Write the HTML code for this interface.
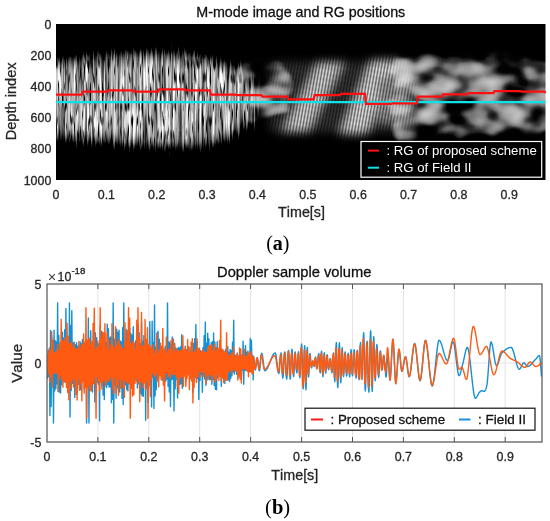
<!DOCTYPE html>
<html><head><meta charset="utf-8"><title>M-mode and Doppler</title>
<style>
html,body{margin:0;padding:0;background:#fff;width:550px;height:521px;overflow:hidden}
svg{display:block}
text{font-family:"Liberation Sans",Arial,Helvetica,sans-serif;font-kerning:none}
.ser{font-family:"Liberation Serif","Times New Roman",serif}
</style></head><body>
<svg width="550" height="521" viewBox="0 0 550 521">
<rect width="550" height="521" fill="#fff"/>
<text x="300.75" y="16.8" font-size="14.3" text-anchor="middle" fill="#111" stroke="#111" stroke-width="0.3">M-mode image and RG positions</text>
<rect x="56" y="24" width="489.5" height="156" fill="#000"/>
<defs>
<filter id="fStreak" filterUnits="userSpaceOnUse" x="56" y="24" width="490" height="156" color-interpolation-filters="sRGB">
  <feGaussianBlur in="SourceAlpha" stdDeviation="9" result="band"/>
  <feTurbulence type="fractalNoise" baseFrequency="0.45 0.02" numOctaves="2" seed="5" result="t"/>
  <feColorMatrix in="t" type="matrix" values="0 0 0 0 0  0 0 0 0 0  0 0 0 0 0  1 0 0 0 0" result="tA"/>
  <feComposite in="tA" in2="band" operator="arithmetic" k1="0" k2="1" k3="0.95" k4="-0.95" result="c"/>
  <feComponentTransfer in="c" result="a0"><feFuncA type="linear" slope="1.45" intercept="-0.05"/></feComponentTransfer>
  <feTurbulence type="fractalNoise" baseFrequency="0.5 0.07" numOctaves="1" seed="21" result="t2"/>
  <feColorMatrix in="t2" type="matrix" values="0 0 0 0 0  0 0 0 0 0  0 0 0 0 0  5 0 0 0 -1.3" result="m2"/>
  <feComposite in="a0" in2="m2" operator="in" result="a"/>
  <feFlood flood-color="#fff"/>
  <feComposite in2="a" operator="in"/>
</filter>
<filter id="fBlob" filterUnits="userSpaceOnUse" x="56" y="24" width="490" height="156" color-interpolation-filters="sRGB">
  <feGaussianBlur in="SourceAlpha" stdDeviation="6" result="band"/>
  <feTurbulence type="fractalNoise" baseFrequency="0.036 0.052" numOctaves="2" seed="9" result="t"/>
  <feColorMatrix in="t" type="matrix" values="0 0 0 0 0  0 0 0 0 0  0 0 0 0 0  1 0 0 0 0" result="tA"/>
  <feComposite in="tA" in2="band" operator="arithmetic" k1="0" k2="1" k3="0.6" k4="-0.6" result="c"/>
  <feComponentTransfer in="c" result="a"><feFuncA type="table" tableValues="0 0 0 0.02 0.2 0.45 0.6 0.7 0.78 0.83 0.86"/></feComponentTransfer>
  <feFlood flood-color="#fff"/>
  <feComposite in2="a" operator="in"/>
</filter>
<pattern id="grat" width="3.1" height="20" patternUnits="userSpaceOnUse" patternTransform="skewX(-10)"><rect width="3.1" height="20" fill="#707070"/><rect x="0.4" width="1.6" height="20" fill="#fff"/></pattern>
<filter id="bl4" filterUnits="userSpaceOnUse" x="200" y="20" width="260" height="160"><feGaussianBlur stdDeviation="4.5"/></filter>
<mask id="mMid" maskUnits="userSpaceOnUse" x="56" y="24" width="490" height="156"><g filter="url(#bl4)">
  <polygon points="270,62 412,62 412,132 270,132" fill="#343434"/>
  <polygon points="283,132 307,132 343,62 319,62" fill="#e0e0e0"/>
  <polygon points="340,134 366,134 398,60 372,60" fill="#e8e8e8"/>
  <polygon points="378,78 412,78 412,122 378,122" fill="#a0a0a0"/>
</g></mask>
</defs>
<polygon points="40,60 60,59 72,57 100,53 130,50 160,50 188,51 205,55 225,61 240,67 252,73 260,79 260,118 252,126 240,135 220,145 200,150 150,149 100,144 60,141 40,141" fill="#fff" filter="url(#fStreak)"/>
<g mask="url(#mMid)"><rect x="250" y="40" width="180" height="110" fill="url(#grat)"/></g>
<g filter="url(#fBlob)">
  <polygon points="388,55 400,54 450,55 500,55 560,55 560,137 500,137 450,137 410,139 388,139" fill="#fff"/>
  <polygon points="236,58 294,58 294,120 236,120" fill="#fff" fill-opacity="0.92"/>
</g>

<line x1="56" y1="102.1" x2="545.5" y2="102.1" stroke="#10e0e8" stroke-width="2.2"/>
<polyline fill="none" stroke="#ff1010" stroke-width="2.2" points="56.0,94.6 81.7,94.6 82.7,91.6 107.5,91.6 108.5,90.4 132.7,90.4 133.7,91.6 158.2,91.6 159.2,89.3 184.9,89.3 185.9,90.3 209.8,90.3 210.8,94.6 235.4,94.6 236.4,95.2 261.5,95.2 262.5,96.7 287.5,96.7 288.5,99.3 313.6,99.3 314.6,95.2 339.9,95.2 340.9,93.8 364.9,93.8 365.9,103.9 391.5,103.9 392.5,103.4 416.9,103.4 417.9,96.6 441.9,96.6 442.9,94.3 467.4,94.3 468.4,93.1 493.5,93.1 494.5,91.1 520.5,91.1 521.5,91.6 544.5,91.6 545.5,93.0"/>
<rect x="361" y="141.5" width="180.7" height="35.7" fill="#000" stroke="#fff" stroke-width="1.2"/>
<line x1="367.8" y1="150.6" x2="379" y2="150.6" stroke="#ff1010" stroke-width="2"/>
<line x1="367.8" y1="167.7" x2="379" y2="167.7" stroke="#10e0e8" stroke-width="2"/>
<text x="386.5" y="155.3" font-size="13.2" fill="#fff">: RG of proposed scheme</text>
<text x="386.5" y="172.4" font-size="13.2" fill="#fff">: RG of Field II</text>
<text x="51.3" y="28.6" font-size="12.4" text-anchor="end" fill="#262626" stroke="#262626" stroke-width="0.3">0</text>
<text x="51.3" y="59.8" font-size="12.4" text-anchor="end" fill="#262626" stroke="#262626" stroke-width="0.3">200</text>
<text x="51.3" y="91.0" font-size="12.4" text-anchor="end" fill="#262626" stroke="#262626" stroke-width="0.3">400</text>
<text x="51.3" y="122.2" font-size="12.4" text-anchor="end" fill="#262626" stroke="#262626" stroke-width="0.3">600</text>
<text x="51.3" y="153.4" font-size="12.4" text-anchor="end" fill="#262626" stroke="#262626" stroke-width="0.3">800</text>
<text x="51.3" y="184.6" font-size="12.4" text-anchor="end" fill="#262626" stroke="#262626" stroke-width="0.3">1000</text>
<text x="56.0" y="198.6" font-size="12.4" text-anchor="middle" fill="#262626" stroke="#262626" stroke-width="0.3">0</text>
<text x="106.4" y="198.6" font-size="12.4" text-anchor="middle" fill="#262626" stroke="#262626" stroke-width="0.3">0.1</text>
<text x="156.7" y="198.6" font-size="12.4" text-anchor="middle" fill="#262626" stroke="#262626" stroke-width="0.3">0.2</text>
<text x="207.1" y="198.6" font-size="12.4" text-anchor="middle" fill="#262626" stroke="#262626" stroke-width="0.3">0.3</text>
<text x="257.4" y="198.6" font-size="12.4" text-anchor="middle" fill="#262626" stroke="#262626" stroke-width="0.3">0.4</text>
<text x="307.8" y="198.6" font-size="12.4" text-anchor="middle" fill="#262626" stroke="#262626" stroke-width="0.3">0.5</text>
<text x="358.2" y="198.6" font-size="12.4" text-anchor="middle" fill="#262626" stroke="#262626" stroke-width="0.3">0.6</text>
<text x="408.5" y="198.6" font-size="12.4" text-anchor="middle" fill="#262626" stroke="#262626" stroke-width="0.3">0.7</text>
<text x="458.9" y="198.6" font-size="12.4" text-anchor="middle" fill="#262626" stroke="#262626" stroke-width="0.3">0.8</text>
<text x="509.2" y="198.6" font-size="12.4" text-anchor="middle" fill="#262626" stroke="#262626" stroke-width="0.3">0.9</text>
<text x="301.5" y="216.7" font-size="14.3" text-anchor="middle" fill="#262626" stroke="#262626" stroke-width="0.3">Time[s]</text>
<text transform="translate(16.4,101.4) rotate(-90)" x="0" y="0" font-size="14.6" text-anchor="middle" fill="#262626" stroke="#262626" stroke-width="0.3">Depth index</text>
<text class="ser" x="277.8" y="250" font-size="20" text-anchor="middle" fill="#000">(<tspan font-weight="bold">a</tspan>)</text>
<text x="294.2" y="276.9" font-size="14.7" text-anchor="middle" fill="#111" stroke="#111" stroke-width="0.3">Doppler sample volume</text>
<line x1="97.9" y1="284" x2="97.9" y2="442" stroke="#e3e3e3" stroke-width="1"/>
<line x1="148.8" y1="284" x2="148.8" y2="442" stroke="#e3e3e3" stroke-width="1"/>
<line x1="199.7" y1="284" x2="199.7" y2="442" stroke="#e3e3e3" stroke-width="1"/>
<line x1="250.6" y1="284" x2="250.6" y2="442" stroke="#e3e3e3" stroke-width="1"/>
<line x1="301.6" y1="284" x2="301.6" y2="442" stroke="#e3e3e3" stroke-width="1"/>
<line x1="352.5" y1="284" x2="352.5" y2="442" stroke="#e3e3e3" stroke-width="1"/>
<line x1="403.4" y1="284" x2="403.4" y2="442" stroke="#e3e3e3" stroke-width="1"/>
<line x1="454.3" y1="284" x2="454.3" y2="442" stroke="#e3e3e3" stroke-width="1"/>
<line x1="505.2" y1="284" x2="505.2" y2="442" stroke="#e3e3e3" stroke-width="1"/>
<line x1="47" y1="363" x2="542" y2="363" stroke="#e3e3e3" stroke-width="1"/>
<clipPath id="cb"><rect x="47" y="284" width="495" height="158"/></clipPath><g clip-path="url(#cb)"><g fill="none" stroke-linejoin="round">
<polyline stroke="#1590d5" stroke-width="1.4" points="47.00,356.5 47.59,378.3 48.18,350.7 48.77,376.2 49.36,348.3 49.95,415.5 50.54,330.5 51.14,406.6 51.73,337.0 52.32,383.6 52.91,340.3 53.50,423.0 54.09,330.2 54.68,391.1 55.27,340.6 55.86,388.5 56.45,342.0 57.04,383.7 57.63,303.0 58.22,391.5 58.82,335.4 59.41,392.1 60.00,345.9 60.59,393.0 61.18,346.2 61.77,384.9 62.36,332.1 62.95,379.4 63.54,337.9 64.13,381.6 64.72,329.6 65.31,382.2 65.91,308.4 66.50,380.1 67.09,344.5 67.68,386.8 68.27,338.8 68.86,384.1 69.45,303.0 70.04,417.1 70.63,325.5 71.22,390.6 71.81,310.8 72.40,383.2 72.99,343.0 73.59,385.7 74.18,342.3 74.77,397.4 75.36,344.6 75.95,386.1 76.54,342.7 77.13,392.4 77.72,346.3 78.31,384.6 78.90,346.3 79.49,379.2 80.08,341.7 80.67,389.8 81.27,343.8 81.86,379.6 82.45,339.4 83.04,377.5 83.63,343.4 84.22,389.2 84.81,346.1 85.40,379.2 85.99,339.2 86.58,423.0 87.17,345.0 87.76,382.9 88.36,317.9 88.95,423.0 89.54,343.5 90.13,381.8 90.72,330.7 91.31,379.3 91.90,347.1 92.49,392.1 93.08,344.6 93.67,381.5 94.26,338.2 94.85,402.0 95.44,332.8 96.04,391.5 96.63,337.8 97.22,382.1 97.81,344.0 98.40,384.0 98.99,343.6 99.58,420.9 100.17,325.9 100.76,381.3 101.35,331.1 101.94,385.2 102.53,345.5 103.12,395.1 103.72,341.4 104.31,399.5 104.90,333.3 105.49,381.8 106.08,342.5 106.67,387.5 107.26,324.2 107.85,384.3 108.44,328.7 109.03,387.0 109.62,338.0 110.21,386.9 110.81,336.8 111.40,402.7 111.99,338.6 112.58,399.4 113.17,303.0 113.76,423.0 114.35,339.3 114.94,385.5 115.53,338.4 116.12,398.2 116.71,329.2 117.30,387.6 117.89,332.3 118.49,390.8 119.08,330.2 119.67,392.1 120.26,340.9 120.85,387.7 121.44,341.9 122.03,398.4 122.62,327.6 123.21,404.6 123.80,303.0 124.39,383.9 124.98,344.9 125.57,384.7 126.17,329.2 126.76,389.6 127.35,333.2 127.94,390.9 128.53,344.1 129.12,383.6 129.71,328.2 130.30,381.7 130.89,333.4 131.48,379.0 132.07,335.2 132.66,378.8 133.26,326.8 133.85,381.6 134.44,346.6 135.03,379.2 135.62,340.9 136.21,380.9 136.80,344.6 137.39,388.0 137.98,324.8 138.57,383.7 139.16,332.7 139.75,392.4 140.34,343.5 140.94,393.7 141.53,322.2 142.12,395.8 142.71,341.1 143.30,396.2 143.89,335.6 144.48,382.6 145.07,343.4 145.66,420.3 146.25,340.3 146.84,387.7 147.43,340.2 148.02,402.6 148.62,346.0 149.21,381.5 149.80,321.8 150.39,387.9 150.98,348.1 151.57,406.9 152.16,321.2 152.75,377.1 153.34,342.8 153.93,408.4 154.52,304.9 155.11,395.9 155.71,347.3 156.30,389.5 156.89,333.0 157.48,378.4 158.07,331.3 158.66,378.2 159.25,339.3 159.84,373.0 160.43,352.9 161.02,373.1 161.61,353.7 162.20,380.4 162.79,352.6 163.39,373.3 163.98,350.6 164.57,375.9 165.16,346.3 165.75,381.3 166.34,348.0 166.93,379.1 167.52,303.0 168.11,386.4 168.70,341.9 169.29,392.1 169.88,342.2 170.47,406.6 171.07,344.7 171.66,379.8 172.25,336.9 172.84,379.1 173.43,347.0 174.02,410.9 174.61,343.4 175.20,388.9 175.79,347.9 176.38,379.1 176.97,349.1 177.56,398.0 178.16,347.4 178.75,384.1 179.34,347.9 179.93,384.5 180.52,347.0 181.11,383.6 181.70,334.6 182.29,388.2 182.88,350.3 183.47,374.1 184.06,352.4 184.65,373.5 185.24,346.1 185.84,382.0 186.43,349.8 187.02,373.7 187.61,351.4 188.20,374.9 188.79,352.7 189.38,376.1 189.97,347.7 190.56,378.1 191.15,351.4 191.74,377.6 192.33,350.1 192.92,392.4 193.52,343.5 194.11,376.4 194.70,338.6 195.29,377.4 195.88,324.5 196.47,381.3 197.06,341.6 197.65,378.2 198.24,348.5 198.83,399.6 199.42,349.3 200.01,380.6 200.61,350.7 201.20,374.5 201.79,351.4 202.38,392.2 202.97,347.7 203.56,374.4 204.15,335.7 204.74,379.1 205.33,321.9 205.92,385.2 206.51,343.2 207.10,380.0 207.69,333.2 208.29,377.4 208.88,338.8 209.47,379.7 210.06,347.2 210.65,379.6 211.24,342.6 211.83,384.3 212.42,341.8 213.01,379.2 213.60,332.9 214.19,385.4 214.78,341.9 215.37,389.2 215.97,347.7 216.56,389.8 217.15,341.6 217.74,377.8 218.33,351.2 218.92,374.9 219.51,349.9 220.10,375.5 220.69,351.6 221.28,386.4 221.87,348.7 222.46,377.7 223.06,350.9 223.65,377.4 224.24,352.2 224.83,383.5 225.42,349.8 226.01,373.1 226.60,348.0 227.19,380.0 227.78,346.6 228.37,379.7 228.96,352.1 229.55,381.4 230.14,349.5 230.74,378.6 231.33,350.7 231.92,375.8 232.51,342.3 233.10,371.5 233.69,320.2 234.28,374.0 234.87,354.9 235.46,370.9 236.05,355.5 236.64,374.3 237.23,352.9 237.82,371.1 238.42,355.9 239.01,377.5 239.60,354.3 240.19,371.5 240.78,354.8 241.37,377.7 241.96,355.2 242.55,370.1 243.14,341.1 243.73,384.3 244.32,352.6 244.91,370.3 245.51,345.8 246.10,370.3 246.69,352.5 247.28,370.7 247.87,351.2 248.46,370.5 249.05,354.7 249.64,371.4 250.23,338.5 250.82,369.5 251.41,340.1 252.00,368.8 252.59,355.4 253.19,379.8 253.54,356.4 253.76,356.9 253.98,358.3 254.20,360.6 254.42,363.2 254.64,365.8 254.86,368.0 255.08,369.4 255.30,370.0 255.53,369.6 255.75,368.5 255.97,366.9 256.19,364.9 256.41,362.8 256.64,360.8 256.86,359.1 257.08,358.1 257.30,357.7 257.51,358.0 257.71,359.0 257.92,360.4 258.13,362.2 258.33,364.3 258.54,366.3 258.75,368.1 258.95,369.6 259.16,370.5 259.37,370.8 259.58,370.5 259.79,369.4 260.00,367.8 260.21,365.7 260.42,363.3 260.64,360.8 260.85,358.4 261.06,356.3 261.27,354.7 261.48,353.7 261.69,353.3 261.90,353.5 262.11,354.0 262.32,355.0 262.54,356.2 262.75,357.6 262.96,359.3 263.17,361.1 263.38,362.9 263.59,364.7 263.80,366.3 264.01,367.8 264.22,369.0 264.43,369.9 264.64,370.5 264.85,370.7 265.05,370.7 265.26,370.6 265.46,370.5 265.67,370.4 265.87,370.3 266.07,370.1 266.28,369.9 266.48,369.6 266.69,369.4 266.89,369.1 267.09,368.7 267.30,368.4 267.50,368.0 267.70,367.6 267.91,367.2 268.11,366.7 268.32,366.3 268.52,365.8 268.72,365.3 268.93,364.8 269.13,364.3 269.34,363.7 269.54,363.2 269.74,362.7 269.95,362.1 270.15,361.6 270.36,361.0 270.56,360.5 270.76,360.0 270.97,359.4 271.17,358.9 271.38,358.4 271.58,357.9 271.78,357.4 271.99,357.0 272.19,356.5 272.40,356.1 272.60,355.7 272.80,355.3 273.01,355.0 273.21,354.6 273.41,354.3 273.62,354.1 273.82,353.8 274.03,353.6 274.23,353.4 274.43,353.3 274.64,353.2 274.84,353.1 275.05,353.0 275.25,353.0 275.45,353.2 275.65,353.6 275.85,354.4 276.05,355.4 276.25,356.7 276.45,358.1 276.65,359.8 276.85,361.5 277.05,363.3 277.25,365.0 277.45,366.8 277.65,368.4 277.85,369.8 278.05,371.1 278.25,372.1 278.45,372.9 278.65,373.3 278.85,373.5 279.07,373.0 279.29,371.5 279.50,369.2 279.72,366.4 279.94,363.2 280.16,360.0 280.37,357.1 280.59,354.9 280.81,353.4 281.03,352.9 281.25,353.9 281.47,356.6 281.69,360.6 281.91,365.4 282.13,370.2 282.35,374.3 282.58,377.0 282.80,378.0 283.00,377.3 283.20,375.5 283.40,372.6 283.61,369.0 283.81,364.9 284.01,360.9 284.21,357.3 284.41,354.4 284.62,352.6 284.82,351.9 285.02,352.7 285.22,355.1 285.43,358.7 285.63,363.1 285.84,367.8 286.04,372.3 286.24,375.9 286.45,378.2 286.65,379.0 286.87,378.2 287.08,375.7 287.30,371.9 287.52,367.2 287.73,362.2 287.95,357.5 288.17,353.7 288.38,351.2 288.60,350.4 288.80,351.5 289.01,354.6 289.21,359.2 289.41,364.8 289.62,370.3 289.82,374.9 290.03,378.0 290.23,379.1 290.44,378.0 290.65,374.8 290.87,369.9 291.08,364.2 291.29,358.5 291.50,353.6 291.72,350.4 291.93,349.3 292.14,350.3 292.35,353.3 292.56,357.7 292.77,362.9 292.99,368.1 293.20,372.5 293.41,375.5 293.62,376.5 293.84,375.3 294.07,371.9 294.29,367.0 294.52,361.6 294.74,356.6 294.97,353.3 295.19,352.0 295.40,352.8 295.60,355.1 295.80,358.4 296.00,362.4 296.21,366.4 296.41,369.7 296.61,372.0 296.82,372.8 297.02,372.1 297.22,370.3 297.42,367.5 297.62,364.1 297.82,360.4 298.02,356.9 298.23,354.1 298.43,352.3 298.63,351.7 298.87,354.1 299.11,360.7 299.35,368.7 299.59,375.2 299.83,377.7 300.05,376.4 300.26,372.8 300.48,367.3 300.70,360.9 300.92,354.4 301.14,349.0 301.36,345.3 301.58,344.0 301.79,345.7 302.01,350.6 302.23,357.8 302.45,366.3 302.66,374.9 302.88,382.1 303.10,387.0 303.31,388.7 303.54,385.8 303.77,377.9 303.99,367.1 304.22,356.3 304.45,348.4 304.67,345.6 304.89,348.5 305.10,356.6 305.32,367.6 305.53,378.7 305.75,386.8 305.96,389.7 306.19,386.9 306.41,379.1 306.63,368.6 306.86,358.0 307.08,350.3 307.30,347.4 307.51,349.4 307.72,354.8 307.93,362.2 308.14,369.6 308.35,375.0 308.56,377.0 308.76,375.8 308.97,372.6 309.17,367.8 309.38,362.6 309.58,357.9 309.78,354.6 309.99,353.5 310.21,354.2 310.43,356.2 310.66,359.1 310.88,362.3 311.10,365.2 311.33,367.2 311.55,367.9 311.78,367.5 312.01,366.2 312.24,364.5 312.47,362.8 312.70,361.5 312.93,361.1 313.13,361.3 313.34,362.1 313.54,363.1 313.74,364.3 313.94,365.4 314.14,366.1 314.35,366.4 314.55,365.7 314.76,364.0 314.97,361.7 315.17,359.3 315.38,357.6 315.59,357.0 315.79,357.6 315.99,359.2 316.20,361.5 316.40,364.1 316.60,366.5 316.81,368.1 317.01,368.7 317.23,368.1 317.46,366.5 317.68,364.0 317.90,361.1 318.13,358.2 318.35,355.7 318.57,354.1 318.80,353.5 319.00,354.4 319.20,357.1 319.40,360.9 319.61,365.2 319.81,369.1 320.01,371.8 320.21,372.7 320.43,371.3 320.66,367.3 320.88,362.0 321.10,356.6 321.32,352.6 321.55,351.2 321.78,352.9 322.01,357.6 322.24,363.9 322.48,370.3 322.71,375.0 322.94,376.7 323.14,375.5 323.34,372.1 323.55,367.3 323.75,361.9 323.95,357.1 324.15,353.8 324.35,352.6 324.58,354.0 324.81,357.7 325.05,362.9 325.28,368.0 325.51,371.8 325.75,373.1 325.96,372.2 326.17,369.7 326.39,366.0 326.60,361.9 326.81,358.3 327.03,355.7 327.24,354.8 327.47,355.8 327.71,358.5 327.94,362.2 328.17,365.9 328.40,368.6 328.63,369.6 328.85,369.1 329.08,367.9 329.30,366.1 329.52,364.0 329.74,361.9 329.96,360.1 330.18,358.9 330.40,358.5 330.63,359.2 330.85,361.1 331.07,364.0 331.30,367.2 331.52,370.0 331.75,372.0 331.97,372.7 332.20,371.7 332.42,369.0 332.65,365.0 332.87,360.6 333.10,356.6 333.33,353.9 333.55,352.9 333.79,355.6 334.03,362.9 334.27,371.8 334.51,379.0 334.75,381.7 334.97,379.8 335.20,374.4 335.42,366.5 335.65,357.8 335.87,349.9 336.10,344.5 336.32,342.5 336.53,344.8 336.74,351.0 336.94,360.1 337.15,370.1 337.36,379.1 337.56,385.4 337.77,387.6 337.97,385.9 338.17,381.0 338.37,373.8 338.57,365.2 338.77,356.6 338.97,349.4 339.17,344.5 339.38,342.8 339.61,345.5 339.84,352.8 340.07,362.8 340.31,372.8 340.54,380.1 340.77,382.7 340.98,381.0 341.19,376.2 341.40,369.1 341.61,361.4 341.82,354.4 342.03,349.5 342.24,347.8 342.45,349.7 342.67,355.0 342.89,362.1 343.10,369.3 343.32,374.6 343.53,376.5 343.76,375.3 343.99,371.9 344.21,367.0 344.44,361.5 344.66,356.6 344.89,353.2 345.11,352.0 345.34,353.2 345.56,356.6 345.79,361.4 346.01,366.7 346.24,371.6 346.46,374.9 346.69,376.1 346.90,375.0 347.12,371.8 347.34,367.2 347.56,362.1 347.77,357.5 347.99,354.3 348.21,353.2 348.42,354.4 348.63,357.7 348.84,362.4 349.05,367.7 349.27,372.4 349.48,375.7 349.69,376.9 349.91,375.1 350.14,370.1 350.36,363.2 350.58,356.4 350.81,351.4 351.03,349.5 351.25,350.8 351.47,354.5 351.68,359.8 351.90,365.6 352.12,370.9 352.34,374.6 352.55,375.9 352.78,374.6 353.01,371.0 353.23,365.7 353.46,359.9 353.69,354.7 353.92,351.1 354.14,349.8 354.36,350.6 354.57,353.1 354.79,356.9 355.00,361.5 355.21,366.4 355.43,371.0 355.64,374.8 355.86,377.3 356.07,378.1 356.31,376.2 356.54,371.1 356.77,364.1 357.00,357.1 357.23,352.0 357.47,350.1 357.67,351.2 357.87,354.4 358.08,359.2 358.28,364.9 358.49,370.5 358.69,375.3 358.89,378.5 359.10,379.6 359.30,377.8 359.50,372.6 359.70,365.2 359.90,356.9 360.10,349.5 360.30,344.3 360.50,342.5 360.70,344.3 360.90,349.4 361.10,356.8 361.30,365.0 361.50,372.4 361.70,377.5 361.90,379.4 362.12,377.6 362.34,372.5 362.56,365.0 362.78,356.1 363.00,347.1 363.22,339.6 363.44,334.5 363.66,332.7 363.87,335.0 364.07,341.3 364.27,350.7 364.47,361.9 364.68,373.0 364.88,382.5 365.08,388.8 365.28,391.0 365.49,389.5 365.69,385.2 365.90,378.6 366.10,370.5 366.31,361.9 366.51,353.7 366.72,347.1 366.92,342.8 367.13,341.3 367.34,343.3 367.55,348.8 367.76,357.0 367.97,366.7 368.18,376.4 368.39,384.7 368.60,390.2 368.82,392.1 369.02,390.3 369.22,384.9 369.42,376.8 369.62,366.7 369.82,356.1 370.02,346.1 370.23,337.9 370.43,332.6 370.63,330.7 370.83,333.0 371.03,339.6 371.23,349.5 371.43,361.1 371.63,372.7 371.84,382.5 372.04,389.1 372.24,391.4 372.45,388.7 372.66,381.1 372.87,370.2 373.08,358.0 373.29,347.0 373.50,339.5 373.71,336.8 373.93,338.9 374.15,345.0 374.37,353.8 374.59,363.6 374.82,372.4 375.04,378.5 375.26,380.7 375.46,379.3 375.66,375.4 375.86,369.5 376.06,362.6 376.26,355.7 376.46,349.8 376.66,345.9 376.86,344.5 377.09,345.8 377.31,349.3 377.54,354.7 377.76,360.9 377.98,367.2 378.21,372.5 378.43,376.1 378.66,377.3 378.86,376.5 379.06,374.2 379.26,370.7 379.46,366.4 379.66,361.8 379.86,357.5 380.06,354.0 380.26,351.7 380.46,350.9 380.66,351.6 380.87,353.7 381.08,356.7 381.29,360.4 381.50,364.0 381.70,367.1 381.91,369.1 382.12,369.9 382.32,369.4 382.53,368.2 382.73,366.3 382.94,364.0 383.14,361.6 383.35,359.2 383.55,357.4 383.76,356.1 383.96,355.7 384.18,356.7 384.41,359.6 384.63,363.4 384.85,367.3 385.07,370.1 385.30,371.2 385.00,363.0 385.25,368.3 385.50,372.8 385.75,375.9 386.00,377.0 386.25,376.1 386.50,373.6 386.75,370.0 387.00,366.0 387.25,362.0 387.50,358.4 387.75,355.9 388.00,355.0 388.25,356.1 388.50,358.9 388.75,362.9 389.00,367.5 389.25,372.1 389.50,376.1 389.75,378.9 390.00,380.0 390.25,379.2 390.50,376.8 390.75,373.4 391.00,369.0 391.25,364.1 391.50,359.0 391.75,353.9 392.00,349.2 392.25,345.1 392.50,342.1 392.75,340.3 393.00,340.1 393.25,341.7 393.50,344.6 393.75,348.7 394.00,353.5 394.25,358.8 394.50,364.2 394.75,369.5 395.00,374.2 395.25,378.0 395.50,380.7 395.75,382.0 396.00,381.6 396.25,380.3 396.50,378.1 396.75,375.2 397.00,371.9 397.25,368.2 397.50,364.5 397.75,360.8 398.00,357.4 398.25,354.4 398.50,352.1 398.75,350.6 399.00,350.0 399.25,350.4 399.50,351.7 399.75,353.5 400.00,355.9 400.25,358.5 400.50,361.2 400.75,363.9 401.00,366.4 401.25,368.6 401.50,370.2 401.75,371.1 402.00,371.3 402.25,370.9 402.50,370.2 402.75,369.2 403.00,368.0 403.25,366.7 403.50,365.2 403.75,363.7 404.00,362.2 404.25,360.8 404.50,359.5 404.75,358.3 405.00,357.5 405.25,356.9 405.50,356.7 405.75,357.0 406.00,357.7 406.25,358.8 406.50,360.3 406.75,362.0 407.00,363.9 407.25,365.8 407.50,367.9 407.75,369.8 408.00,371.7 408.25,373.3 408.50,374.7 408.75,375.8 409.00,376.4 409.25,376.6 409.50,376.3 409.75,375.6 410.00,374.6 410.25,373.3 410.50,371.8 410.75,370.0 411.00,368.0 411.25,365.9 411.50,363.7 411.75,361.4 412.00,359.1 412.25,356.8 412.50,354.6 412.75,352.5 413.00,350.5 413.25,348.7 413.50,347.1 413.75,345.7 414.00,344.6 414.25,343.9 414.50,343.5 414.75,343.6 415.00,344.1 415.25,344.9 415.50,346.2 415.75,347.7 416.00,349.5 416.25,351.6 416.50,353.8 416.75,356.1 417.00,358.6 417.25,361.1 417.50,363.7 417.75,366.2 418.00,368.6 418.25,371.0 418.50,373.2 418.75,375.2 419.00,376.9 419.25,378.4 419.50,379.6 419.75,380.4 420.00,380.8 420.25,380.7 420.50,380.2 420.75,379.2 421.00,377.8 421.25,376.1 421.50,374.0 421.75,371.8 422.00,369.3 422.25,366.7 422.50,363.9 422.75,361.1 423.00,358.3 423.25,355.5 423.50,352.9 423.75,350.3 424.00,347.9 424.25,345.8 424.50,344.0 424.75,342.4 425.00,341.3 425.25,340.6 425.50,340.3 425.75,340.5 426.00,341.0 426.25,341.9 426.50,343.1 426.75,344.5 427.00,346.1 427.25,348.0 427.50,350.1 427.75,352.3 428.00,354.6 428.25,357.1 428.50,359.6 428.75,362.1 429.00,364.7 429.25,367.2 429.50,369.7 429.75,372.1 430.00,374.5 430.25,376.6 430.50,378.7 430.75,380.5 431.00,382.1 431.25,383.5 431.50,384.6 431.75,385.4 432.00,385.9 432.25,386.0 432.50,385.7 432.75,385.2 433.00,384.3 433.25,383.1 433.50,381.7 433.75,380.1 434.00,378.3 434.25,376.3 434.50,374.2 434.75,371.9 435.00,369.5 435.25,367.1 435.50,364.6 435.75,362.2 436.00,359.7 436.25,357.2 436.50,354.9 436.75,352.6 437.00,350.4 437.25,348.4 437.50,346.5 437.75,344.9 438.00,343.4 438.25,342.2 438.50,341.3 438.75,340.6 439.00,340.3 439.25,340.3 439.50,340.4 439.75,340.6 440.00,340.9 440.25,341.3 440.50,341.8 440.75,342.3 441.00,342.9 441.25,343.6 441.50,344.3 441.75,345.1 442.00,345.9 442.25,346.7 442.50,347.6 442.75,348.5 443.00,349.4 443.25,350.3 443.50,351.2 443.75,352.1 444.00,353.0 444.25,353.8 444.50,354.7 444.75,355.5 445.00,356.3 445.25,357.0 445.50,357.7 445.75,358.3 446.00,358.9 446.25,359.4 446.50,359.8 446.75,360.1 447.00,360.4 447.25,360.5 447.50,360.6 447.75,360.5 448.00,360.2 448.25,359.7 448.50,359.0 448.75,358.2 449.00,357.3 449.25,356.3 449.50,355.1 449.75,354.0 450.00,352.7 450.25,351.5 450.50,350.2 450.75,349.0 451.00,347.8 451.25,346.7 451.50,345.6 451.75,344.6 452.00,343.8 452.25,343.1 452.50,342.5 452.75,342.1 453.00,341.9 453.25,342.0 453.50,342.3 453.75,343.0 454.00,343.9 454.25,345.1 454.50,346.5 454.75,348.1 455.00,349.9 455.25,351.8 455.50,353.8 455.75,355.8 456.00,357.9 456.25,360.0 456.50,362.1 456.75,364.1 457.00,366.1 457.25,368.0 457.50,369.7 457.75,371.2 458.00,372.6 458.25,373.8 458.50,374.7 458.75,375.3 459.00,375.6 459.25,375.6 459.50,375.3 459.75,375.0 460.00,374.4 460.25,373.7 460.50,372.9 460.75,372.0 461.00,371.1 461.25,370.1 461.50,369.0 461.75,367.9 462.00,366.9 462.25,365.9 462.50,364.9 462.75,364.0 463.00,363.1 463.25,362.1 463.50,361.0 463.75,359.9 464.00,358.7 464.25,357.5 464.50,356.3 464.75,355.1 465.00,353.9 465.25,352.8 465.50,351.7 465.75,350.7 466.00,349.8 466.25,349.0 466.50,348.4 466.75,347.9 467.00,347.5 467.25,347.4 467.50,347.5 467.75,347.9 468.00,348.5 468.25,349.3 468.50,350.4 468.75,351.7 469.00,353.2 469.25,354.8 469.50,356.6 469.75,358.6 470.00,360.6 470.25,362.7 470.50,365.0 470.75,367.2 471.00,369.6 471.25,371.9 471.50,374.3 471.75,376.6 472.00,378.9 472.25,381.2 472.50,383.4 472.75,385.5 473.00,387.5 473.25,389.4 473.50,391.2 473.75,392.8 474.00,394.3 474.25,395.5 474.50,396.6 474.75,397.4 475.00,397.9 475.25,398.2 475.50,398.3 475.75,398.2 476.00,398.0 476.25,397.8 476.50,397.4 476.75,397.0 477.00,396.6 477.25,396.2 477.50,395.7 477.75,395.2 478.00,394.7 478.25,394.2 478.50,393.7 478.75,393.3 479.00,392.9 479.25,392.6 479.50,392.3 479.75,392.1 480.00,391.8 480.25,391.6 480.50,391.4 480.75,391.2 481.00,391.0 481.25,390.8 481.50,390.7 481.75,390.7 482.00,390.7 482.25,390.8 482.50,390.9 482.75,391.0 483.00,391.1 483.25,391.2 483.50,391.3 483.75,391.4 484.00,391.4 484.25,391.4 484.50,391.3 484.75,391.0 485.00,390.7 485.25,390.4 485.50,390.0 485.75,389.5 486.00,388.8 486.25,387.9 486.50,386.8 486.75,385.6 487.00,384.3 487.25,382.5 487.50,380.2 487.75,377.4 488.00,374.3 488.25,370.9 488.50,367.4 488.75,363.7 489.00,360.1 489.25,356.6 489.50,353.2 489.75,350.1 490.00,347.4 490.25,345.1 490.50,343.4 490.75,342.3 491.00,341.9 491.25,342.0 491.50,342.5 491.75,343.1 492.00,344.0 492.25,345.0 492.50,346.2 492.75,347.6 493.00,349.0 493.25,350.6 493.50,352.1 493.75,353.8 494.00,355.4 494.25,356.9 494.50,358.5 494.75,359.9 495.00,361.3 495.25,362.5 495.50,363.5 495.75,364.4 496.00,365.0 496.25,365.5 496.50,365.6 496.75,365.5 497.00,365.3 497.25,365.0 497.50,364.6 497.75,364.1 498.00,363.6 498.25,362.9 498.50,362.2 498.75,361.5 499.00,360.7 499.25,359.9 499.50,359.1 499.75,358.3 500.00,357.5 500.25,356.7 500.50,355.9 500.75,355.2 501.00,354.6 501.25,354.0 501.50,353.5 501.75,353.1 502.00,352.8 502.25,352.6 502.50,352.3 502.75,352.1 503.00,351.8 503.25,351.6 503.50,351.4 503.75,351.1 504.00,350.9 504.25,350.7 504.50,350.5 504.75,350.3 505.00,350.1 505.25,349.9 505.50,349.7 505.75,349.5 506.00,349.3 506.25,349.2 506.50,349.0 506.75,348.8 507.00,348.7 507.25,348.5 507.50,348.4 507.75,348.3 508.00,348.2 508.25,348.0 508.50,347.9 508.75,347.8 509.00,347.8 509.25,347.7 509.50,347.6 509.75,347.6 510.00,347.5 510.25,347.5 510.50,347.4 510.75,347.4 511.00,347.4 511.25,347.4 511.50,347.6 511.75,347.8 512.00,348.1 512.25,348.6 512.50,349.1 512.75,349.7 513.00,350.4 513.25,351.1 513.50,351.9 513.75,352.8 514.00,353.7 514.25,354.6 514.50,355.5 514.75,356.5 515.00,357.5 515.25,358.5 515.50,359.5 515.75,360.5 516.00,361.4 516.25,362.4 516.50,363.3 516.75,364.2 517.00,365.0 517.25,365.8 517.50,366.5 517.75,367.2 518.00,367.7 518.25,368.2 518.50,368.6 518.75,368.9 519.00,369.1 519.25,369.2 519.50,369.2 519.75,369.0 520.00,368.8 520.25,368.5 520.50,368.1 520.75,367.7 521.00,367.2 521.25,366.7 521.50,366.2 521.75,365.7 522.00,365.2 522.25,364.7 522.50,364.2 522.75,363.8 523.00,363.4 523.25,363.1 523.50,362.9 523.75,362.8 524.00,362.8 524.25,362.9 524.50,363.1 524.75,363.3 525.00,363.6 525.25,364.0 525.50,364.3 525.75,364.7 526.00,365.1 526.25,365.5 526.50,365.8 526.75,366.1 527.00,366.3 527.25,366.4 527.50,366.5 527.75,366.5 528.00,366.4 528.25,366.4 528.50,366.3 528.75,366.2 529.00,366.1 529.25,365.9 529.50,365.8 529.75,365.6 530.00,365.4 530.25,365.2 530.50,364.9 530.75,364.7 531.00,364.4 531.25,364.2 531.50,363.9 531.75,363.6 532.00,363.4 532.25,363.1 532.50,362.8 532.75,362.5 533.00,362.2 533.25,361.9 533.50,361.6 533.75,361.3 534.00,361.0 534.25,360.7 534.50,360.4 534.75,360.2 535.00,359.9 535.25,359.6 535.50,359.4 535.75,359.2 536.00,358.9 536.25,358.6 536.50,358.3 536.75,358.0 537.00,357.7 537.25,357.3 537.50,357.0 537.75,356.7 538.00,356.4 538.25,356.2 538.50,356.0 538.75,355.8 539.00,355.7 539.25,355.6 539.50,355.7 539.75,356.5 540.00,358.0 540.25,360.3 540.50,363.0 540.75,366.1 541.00,369.5 541.25,373.0 541.50,376.5"/>
<polyline stroke="#ff5a12" stroke-width="1.4" points="47.00,359.1 47.59,370.1 48.18,353.5 48.77,373.9 49.36,349.2 49.95,382.1 50.54,350.8 51.14,376.3 51.73,331.6 52.32,387.2 52.91,340.3 53.50,373.4 54.09,352.6 54.68,372.9 55.27,352.9 55.86,372.5 56.45,351.0 57.04,373.4 57.63,344.6 58.22,391.3 58.82,350.5 59.41,378.8 60.00,342.6 60.59,375.6 61.18,319.3 61.77,379.2 62.36,340.7 62.95,387.2 63.54,340.9 64.13,382.0 64.72,337.5 65.31,381.4 65.91,341.7 66.50,387.6 67.09,323.3 67.68,392.6 68.27,336.1 68.86,399.7 69.45,344.3 70.04,380.7 70.63,343.4 71.22,388.9 71.81,341.9 72.40,378.7 72.99,347.1 73.59,387.1 74.18,344.1 74.77,379.2 75.36,348.5 75.95,394.4 76.54,349.6 77.13,400.0 77.72,348.4 78.31,378.0 78.90,341.5 79.49,390.3 80.08,348.6 80.67,383.5 81.27,345.0 81.86,400.8 82.45,344.7 83.04,381.6 83.63,333.9 84.22,393.2 84.81,342.3 85.40,387.2 85.99,307.7 86.58,418.3 87.17,340.8 87.76,387.7 88.36,339.1 88.95,385.1 89.54,338.4 90.13,390.7 90.72,345.2 91.31,390.9 91.90,341.8 92.49,383.9 93.08,323.5 93.67,383.5 94.26,308.2 94.85,376.9 95.44,349.8 96.04,418.3 96.63,347.6 97.22,376.6 97.81,340.9 98.40,380.9 98.99,346.4 99.58,390.8 100.17,307.7 100.76,382.2 101.35,338.0 101.94,389.0 102.53,332.1 103.12,381.6 103.72,333.0 104.31,380.0 104.90,323.8 105.49,385.7 106.08,347.6 106.67,382.9 107.26,332.6 107.85,379.4 108.44,339.5 109.03,381.5 109.62,350.0 110.21,376.5 110.81,344.6 111.40,379.7 111.99,323.6 112.58,388.5 113.17,346.5 113.76,393.9 114.35,348.4 114.94,376.9 115.53,326.8 116.12,392.9 116.71,345.6 117.30,384.8 117.89,342.4 118.49,395.2 119.08,339.2 119.67,378.9 120.26,346.7 120.85,387.8 121.44,344.6 122.03,379.1 122.62,348.6 123.21,387.6 123.80,348.8 124.39,397.4 124.98,322.8 125.57,380.4 126.17,341.9 126.76,382.9 127.35,330.6 127.94,381.9 128.53,307.7 129.12,383.7 129.71,318.2 130.30,418.3 130.89,343.5 131.48,388.2 132.07,343.6 132.66,396.1 133.26,340.9 133.85,394.6 134.44,343.2 135.03,383.4 135.62,349.6 136.21,378.3 136.80,320.2 137.39,383.0 137.98,307.7 138.57,380.8 139.16,337.8 139.75,401.7 140.34,346.6 140.94,381.4 141.53,312.5 142.12,382.7 142.71,346.3 143.30,387.4 143.89,345.7 144.48,382.7 145.07,319.4 145.66,389.6 146.25,339.5 146.84,380.8 147.43,327.7 148.02,418.3 148.62,344.8 149.21,385.3 149.80,345.4 150.39,396.6 150.98,347.2 151.57,379.2 152.16,349.5 152.75,372.2 153.34,344.7 153.93,374.8 154.52,354.5 155.11,376.7 155.71,349.4 156.30,373.0 156.89,333.6 157.48,380.9 158.07,352.9 158.66,386.9 159.25,350.2 159.84,375.3 160.43,343.2 161.02,379.6 161.61,346.4 162.20,376.8 162.79,328.5 163.39,385.4 163.98,349.0 164.57,401.1 165.16,351.2 165.75,373.4 166.34,337.1 166.93,372.7 167.52,353.7 168.11,377.7 168.70,349.6 169.29,375.2 169.88,348.9 170.47,377.9 171.07,340.2 171.66,372.8 172.25,352.0 172.84,374.7 173.43,339.0 174.02,374.6 174.61,343.9 175.20,374.2 175.79,352.0 176.38,377.2 176.97,348.8 177.56,387.3 178.16,350.6 178.75,393.3 179.34,351.6 179.93,378.2 180.52,350.4 181.11,376.3 181.70,350.3 182.29,376.9 182.88,335.8 183.47,386.3 184.06,350.1 184.65,376.0 185.24,347.6 185.84,386.5 186.43,351.0 187.02,378.5 187.61,339.5 188.20,374.4 188.79,346.8 189.38,389.5 189.97,352.6 190.56,378.7 191.15,342.1 191.74,381.0 192.33,338.6 192.92,402.9 193.52,352.4 194.11,387.3 194.70,349.7 195.29,375.9 195.88,352.4 196.47,382.6 197.06,338.7 197.65,376.6 198.24,349.4 198.83,371.7 199.42,348.3 200.01,377.6 200.61,352.1 201.20,371.4 201.79,351.5 202.38,371.7 202.97,349.8 203.56,376.3 204.15,351.1 204.74,372.3 205.33,352.7 205.92,383.8 206.51,352.6 207.10,375.2 207.69,347.7 208.29,379.1 208.88,345.6 209.47,374.4 210.06,345.7 210.65,374.8 211.24,344.7 211.83,381.2 212.42,350.8 213.01,375.6 213.60,346.6 214.19,378.5 214.78,343.9 215.37,382.6 215.97,351.6 216.56,379.8 217.15,348.3 217.74,374.0 218.33,348.5 218.92,380.5 219.51,340.6 220.10,376.4 220.69,320.2 221.28,380.4 221.87,350.4 222.46,377.6 223.06,349.6 223.65,382.7 224.24,351.8 224.83,378.2 225.42,352.6 226.01,380.4 226.60,332.8 227.19,380.2 227.78,353.3 228.37,372.1 228.96,355.1 229.55,371.0 230.14,356.3 230.74,370.1 231.33,353.4 231.92,373.5 232.51,353.2 233.10,369.7 233.69,347.3 234.28,370.2 234.87,356.2 235.46,369.7 236.05,356.2 236.64,371.0 237.23,353.7 237.82,380.0 238.42,356.6 239.01,375.3 239.60,347.9 240.19,379.2 240.78,349.0 241.37,383.0 241.96,356.5 242.55,368.6 243.14,354.9 243.73,368.5 244.32,349.4 244.91,369.4 245.51,357.0 246.10,369.5 246.69,356.3 247.28,371.0 247.87,352.1 248.46,376.7 249.05,353.3 249.64,371.7 250.23,355.5 250.82,371.6 251.41,351.4 252.00,373.7 252.59,356.4 253.19,373.1 253.19,356.7 253.41,357.2 253.63,358.6 253.85,360.6 254.07,362.9 254.29,365.3 254.51,367.3 254.73,368.7 254.95,369.2 255.18,368.8 255.40,367.8 255.62,366.3 255.84,364.5 256.06,362.5 256.29,360.7 256.51,359.2 256.73,358.2 256.95,357.9 257.16,358.1 257.36,359.0 257.57,360.2 257.78,361.8 257.98,363.6 258.19,365.3 258.40,366.9 258.60,368.2 258.81,369.0 259.02,369.3 259.23,369.0 259.44,368.2 259.65,366.8 259.86,365.1 260.07,363.2 260.29,361.2 260.50,359.2 260.71,357.5 260.92,356.2 261.13,355.4 261.34,355.1 261.55,355.2 261.76,355.7 261.97,356.4 262.19,357.4 262.40,358.6 262.61,360.0 262.82,361.5 263.03,362.9 263.24,364.4 263.45,365.8 263.66,367.0 263.87,368.0 264.08,368.7 264.29,369.2 264.50,369.3 264.70,369.3 264.91,369.3 265.11,369.2 265.32,369.1 265.52,369.0 265.72,368.9 265.93,368.7 266.13,368.5 266.34,368.3 266.54,368.1 266.74,367.8 266.95,367.5 267.15,367.2 267.35,366.9 267.56,366.6 267.76,366.2 267.97,365.9 268.17,365.5 268.37,365.1 268.58,364.7 268.78,364.3 268.99,363.9 269.19,363.5 269.39,363.1 269.60,362.7 269.80,362.2 270.01,361.8 270.21,361.4 270.41,361.0 270.62,360.6 270.82,360.2 271.03,359.8 271.23,359.4 271.43,359.0 271.64,358.7 271.84,358.3 272.05,358.0 272.25,357.7 272.45,357.4 272.66,357.1 272.86,356.8 273.06,356.6 273.27,356.4 273.47,356.2 273.68,356.0 273.88,355.9 274.08,355.8 274.29,355.7 274.49,355.6 274.70,355.6 274.90,355.6 275.10,355.7 275.30,356.1 275.50,356.7 275.70,357.5 275.90,358.5 276.10,359.7 276.30,361.0 276.50,362.4 276.70,363.8 276.90,365.2 277.10,366.6 277.30,367.9 277.50,369.1 277.70,370.1 277.90,370.9 278.10,371.5 278.30,371.9 278.50,372.0 278.72,371.6 278.94,370.3 279.15,368.4 279.37,365.9 279.59,363.2 279.81,360.5 280.02,358.0 280.24,356.1 280.46,354.8 280.68,354.4 280.90,355.1 281.12,357.2 281.34,360.3 281.56,364.0 281.78,367.7 282.00,370.8 282.23,372.9 282.45,373.7 282.65,373.2 282.85,371.7 283.05,369.3 283.26,366.4 283.46,363.2 283.66,359.9 283.86,357.0 284.06,354.7 284.27,353.2 284.47,352.6 284.67,353.3 284.87,355.3 285.08,358.4 285.28,362.1 285.49,366.1 285.69,369.9 285.89,372.9 286.10,374.9 286.30,375.6 286.52,374.9 286.73,372.7 286.95,369.5 287.17,365.5 287.38,361.3 287.60,357.3 287.82,354.0 288.03,351.9 288.25,351.2 288.45,352.1 288.66,354.8 288.86,358.9 289.06,363.7 289.27,368.5 289.47,372.5 289.68,375.2 289.88,376.2 290.09,375.3 290.30,372.8 290.52,369.1 290.73,364.7 290.94,360.3 291.15,356.6 291.37,354.2 291.58,353.3 291.79,354.1 292.00,356.3 292.21,359.7 292.42,363.6 292.64,367.6 292.85,371.0 293.06,373.2 293.27,374.0 293.49,373.0 293.72,370.1 293.94,365.9 294.17,361.3 294.39,357.2 294.62,354.3 294.84,353.2 295.05,353.9 295.25,355.7 295.45,358.4 295.65,361.5 295.86,364.7 296.06,367.4 296.26,369.2 296.47,369.8 296.67,369.3 296.87,367.8 297.07,365.6 297.27,362.9 297.47,360.0 297.67,357.3 297.88,355.1 298.08,353.6 298.28,353.1 298.52,355.2 298.76,360.8 299.00,367.7 299.24,373.3 299.48,375.5 299.70,374.4 299.91,371.4 300.13,366.9 300.35,361.5 300.57,356.2 300.79,351.7 301.01,348.6 301.23,347.6 301.44,349.1 301.66,353.4 301.88,359.8 302.10,367.3 302.31,374.9 302.53,381.3 302.75,385.6 302.96,387.1 303.19,384.6 303.42,377.7 303.64,368.4 303.87,359.0 304.10,352.2 304.32,349.7 304.54,351.9 304.75,357.9 304.97,366.2 305.18,374.4 305.40,380.4 305.61,382.6 305.84,380.5 306.06,374.7 306.28,366.7 306.51,358.7 306.73,352.9 306.95,350.8 307.16,352.4 307.37,356.7 307.58,362.6 307.79,368.5 308.00,372.8 308.21,374.3 308.41,373.4 308.62,370.7 308.82,366.8 309.03,362.5 309.23,358.6 309.43,355.9 309.64,355.0 309.86,355.6 310.08,357.2 310.31,359.6 310.53,362.2 310.75,364.6 310.98,366.2 311.20,366.8 311.43,366.4 311.66,365.3 311.89,363.8 312.12,362.3 312.35,361.2 312.58,360.8 312.78,361.0 312.99,361.7 313.19,362.8 313.39,363.9 313.59,364.9 313.79,365.6 314.00,365.8 314.20,365.3 314.41,363.9 314.62,362.0 314.82,360.0 315.03,358.6 315.24,358.1 315.44,358.6 315.64,360.1 315.85,362.2 316.05,364.6 316.25,366.7 316.46,368.2 316.66,368.7 316.88,368.2 317.11,366.7 317.33,364.6 317.55,362.0 317.78,359.5 318.00,357.3 318.22,355.8 318.45,355.3 318.65,356.1 318.85,358.3 319.05,361.5 319.26,365.0 319.46,368.2 319.66,370.4 319.86,371.2 320.08,370.0 320.31,366.7 320.53,362.2 320.75,357.7 320.97,354.4 321.20,353.1 321.43,354.6 321.66,358.4 321.89,363.7 322.13,369.0 322.36,372.9 322.59,374.3 322.79,373.3 322.99,370.6 323.20,366.7 323.40,362.3 323.60,358.4 323.80,355.7 324.00,354.7 324.23,355.8 324.46,358.8 324.70,362.9 324.93,367.0 325.16,370.0 325.40,371.1 325.61,370.4 325.82,368.2 326.04,365.1 326.25,361.6 326.46,358.5 326.68,356.3 326.89,355.5 327.12,356.4 327.36,358.8 327.59,362.0 327.82,365.3 328.05,367.6 328.28,368.5 328.50,368.2 328.73,367.1 328.95,365.6 329.17,363.8 329.39,362.0 329.61,360.5 329.83,359.5 330.05,359.2 330.28,359.7 330.50,361.4 330.72,363.8 330.95,366.4 331.17,368.8 331.40,370.5 331.62,371.1 331.85,370.2 332.07,367.9 332.30,364.5 332.52,360.7 332.75,357.3 332.98,355.0 333.20,354.1 333.44,356.4 333.68,362.2 333.92,369.4 334.16,375.2 334.40,377.4 334.62,376.0 334.85,371.8 335.07,365.8 335.30,359.2 335.52,353.2 335.75,349.1 335.97,347.6 336.18,349.3 336.39,353.9 336.59,360.7 336.80,368.1 337.01,374.9 337.21,379.5 337.42,381.2 337.62,380.0 337.82,376.4 338.02,371.1 338.22,364.8 338.42,358.6 338.62,353.3 338.82,349.7 339.03,348.5 339.26,350.4 339.49,355.8 339.72,363.0 339.96,370.3 340.19,375.7 340.42,377.6 340.63,376.2 340.84,372.4 341.05,366.8 341.26,360.6 341.47,355.0 341.68,351.2 341.89,349.8 342.10,351.5 342.32,356.1 342.54,362.3 342.75,368.6 342.97,373.2 343.18,374.8 343.41,373.8 343.64,370.8 343.86,366.6 344.09,361.8 344.31,357.6 344.54,354.6 344.76,353.6 344.99,354.5 345.21,357.3 345.44,361.3 345.66,365.7 345.89,369.7 346.11,372.4 346.34,373.4 346.55,372.5 346.77,369.9 346.99,366.2 347.21,362.0 347.42,358.3 347.64,355.7 347.86,354.7 348.07,355.7 348.28,358.3 348.49,362.1 348.70,366.3 348.92,370.1 349.13,372.8 349.34,373.7 349.56,372.3 349.79,368.6 350.01,363.4 350.23,358.3 350.46,354.5 350.68,353.1 350.90,354.2 351.12,357.1 351.33,361.3 351.55,366.0 351.77,370.2 351.99,373.1 352.20,374.1 352.43,373.1 352.66,370.1 352.88,365.8 353.11,361.1 353.34,356.8 353.57,353.9 353.79,352.8 354.01,353.5 354.22,355.5 354.44,358.6 354.65,362.4 354.86,366.4 355.08,370.2 355.29,373.3 355.51,375.3 355.72,376.0 355.96,374.3 356.19,369.8 356.42,363.5 356.65,357.2 356.88,352.6 357.12,351.0 357.32,352.0 357.52,355.0 357.73,359.5 357.93,364.7 358.14,370.0 358.34,374.5 358.54,377.5 358.75,378.5 358.95,376.9 359.15,372.3 359.35,365.6 359.55,358.3 359.75,351.7 359.95,347.1 360.15,345.4 360.35,347.1 360.55,351.8 360.75,358.6 360.95,366.1 361.15,372.9 361.35,377.5 361.55,379.2 361.77,377.7 361.99,373.3 362.21,366.7 362.43,359.0 362.65,351.3 362.87,344.7 363.09,340.3 363.31,338.8 363.52,340.5 363.72,345.4 363.92,352.7 364.12,361.3 364.33,369.9 364.53,377.1 364.73,382.0 364.93,383.7 365.14,382.5 365.34,379.0 365.55,373.5 365.75,366.9 365.96,359.8 366.16,353.2 366.37,347.8 366.57,344.2 366.78,343.0 366.99,344.7 367.20,349.6 367.41,356.9 367.62,365.5 367.83,374.1 368.04,381.4 368.25,386.2 368.47,387.9 368.67,386.5 368.87,382.2 369.07,375.8 369.27,367.8 369.47,359.3 369.67,351.4 369.88,344.9 370.08,340.6 370.28,339.2 370.48,341.0 370.68,346.0 370.88,353.6 371.08,362.6 371.28,371.6 371.49,379.2 371.69,384.2 371.89,386.0 372.10,383.8 372.31,377.6 372.52,368.7 372.73,358.8 372.94,349.9 373.15,343.7 373.36,341.5 373.58,343.3 373.80,348.4 374.02,355.7 374.24,363.8 374.47,371.2 374.69,376.2 374.91,378.1 375.11,376.9 375.31,373.8 375.51,369.0 375.71,363.4 375.91,357.8 376.11,353.1 376.31,349.9 376.51,348.8 376.74,349.8 376.96,352.6 377.19,356.8 377.41,361.7 377.63,366.6 377.86,370.8 378.08,373.6 378.31,374.6 378.51,373.9 378.71,371.9 378.91,368.9 379.11,365.2 379.31,361.3 379.51,357.6 379.71,354.5 379.91,352.6 380.11,351.9 380.31,352.6 380.52,354.6 380.73,357.5 380.94,361.0 381.15,364.5 381.35,367.5 381.56,369.5 381.77,370.2 381.97,369.7 382.18,368.4 382.38,366.4 382.59,364.0 382.79,361.4 383.00,358.9 383.20,356.9 383.41,355.6 383.61,355.2 383.83,356.1 384.06,358.7 384.28,362.3 384.50,365.9 384.72,368.5 384.95,369.5 385.00,363.0 385.25,367.4 385.50,370.6 385.75,372.2 386.00,371.4 386.25,368.3 386.50,363.9 386.75,358.8 387.00,353.9 387.25,349.9 387.50,347.7 387.75,347.9 388.00,349.9 388.25,353.4 388.50,357.8 388.75,362.7 389.00,367.8 389.25,372.5 389.50,376.4 389.75,379.0 390.00,380.0 390.25,379.1 390.50,376.7 390.75,373.2 391.00,368.7 391.25,363.6 391.50,358.3 391.75,353.1 392.00,348.2 392.25,344.1 392.50,340.9 392.75,339.1 393.00,339.0 393.25,340.6 393.50,343.8 393.75,348.2 394.00,353.3 394.25,359.0 394.50,364.8 394.75,370.4 395.00,375.5 395.25,379.6 395.50,382.6 395.75,383.9 396.00,383.5 396.25,382.0 396.50,379.6 396.75,376.5 397.00,372.9 397.25,368.9 397.50,364.8 397.75,360.8 398.00,357.1 398.25,353.9 398.50,351.3 398.75,349.6 399.00,349.0 399.25,349.5 399.50,350.8 399.75,352.7 400.00,355.1 400.25,357.9 400.50,360.7 400.75,363.6 401.00,366.2 401.25,368.4 401.50,370.1 401.75,371.1 402.00,371.3 402.25,370.9 402.50,370.2 402.75,369.2 403.00,368.0 403.25,366.7 403.50,365.2 403.75,363.7 404.00,362.2 404.25,360.8 404.50,359.5 404.75,358.3 405.00,357.5 405.25,356.9 405.50,356.7 405.75,357.0 406.00,357.7 406.25,358.8 406.50,360.3 406.75,362.0 407.00,363.9 407.25,365.8 407.50,367.9 407.75,369.8 408.00,371.7 408.25,373.3 408.50,374.7 408.75,375.8 409.00,376.4 409.25,376.6 409.50,376.3 409.75,375.7 410.00,374.7 410.25,373.4 410.50,371.8 410.75,370.1 411.00,368.1 411.25,366.0 411.50,363.9 411.75,361.6 412.00,359.3 412.25,357.1 412.50,354.9 412.75,352.8 413.00,350.8 413.25,349.0 413.50,347.4 413.75,346.1 414.00,345.0 414.25,344.3 414.50,343.9 414.75,344.0 415.00,344.4 415.25,345.3 415.50,346.5 415.75,348.0 416.00,349.8 416.25,351.8 416.50,353.9 416.75,356.2 417.00,358.6 417.25,361.1 417.50,363.6 417.75,366.0 418.00,368.4 418.25,370.7 418.50,372.9 418.75,374.8 419.00,376.5 419.25,378.0 419.50,379.1 419.75,379.9 420.00,380.3 420.25,380.2 420.50,379.7 420.75,378.7 421.00,377.4 421.25,375.7 421.50,373.7 421.75,371.5 422.00,369.0 422.25,366.5 422.50,363.8 422.75,361.0 423.00,358.3 423.25,355.6 423.50,353.0 423.75,350.5 424.00,348.2 424.25,346.1 424.50,344.3 424.75,342.8 425.00,341.7 425.25,340.9 425.50,340.7 425.75,340.9 426.00,341.4 426.25,342.3 426.50,343.4 426.75,344.8 427.00,346.4 427.25,348.3 427.50,350.3 427.75,352.4 428.00,354.7 428.25,357.1 428.50,359.6 428.75,362.0 429.00,364.6 429.25,367.0 429.50,369.5 429.75,371.8 430.00,374.1 430.25,376.2 430.50,378.2 430.75,380.0 431.00,381.6 431.25,383.0 431.50,384.0 431.75,384.8 432.00,385.3 432.25,385.4 432.50,385.2 432.75,384.8 433.00,384.2 433.25,383.3 433.50,382.3 433.75,381.2 434.00,379.9 434.25,378.4 434.50,376.9 434.75,375.3 435.00,373.6 435.25,371.9 435.50,370.1 435.75,368.3 436.00,366.6 436.25,364.9 436.50,363.2 436.75,361.6 437.00,360.1 437.25,358.7 437.50,357.4 437.75,356.2 438.00,355.3 438.25,354.5 438.50,353.9 438.75,353.5 439.00,353.4 439.25,353.4 439.50,353.5 439.75,353.7 440.00,353.9 440.25,354.2 440.50,354.6 440.75,354.9 441.00,355.4 441.25,355.8 441.50,356.3 441.75,356.8 442.00,357.3 442.25,357.8 442.50,358.4 442.75,358.9 443.00,359.5 443.25,360.0 443.50,360.5 443.75,361.0 444.00,361.5 444.25,362.0 444.50,362.4 444.75,362.8 445.00,363.1 445.25,363.4 445.50,363.6 445.75,363.8 446.00,363.9 446.25,364.0 446.50,363.9 446.75,363.7 447.00,363.3 447.25,362.8 447.50,362.1 447.75,361.4 448.00,360.5 448.25,359.5 448.50,358.4 448.75,357.2 449.00,356.0 449.25,354.8 449.50,353.5 449.75,352.2 450.00,350.8 450.25,349.5 450.50,348.2 450.75,346.9 451.00,345.7 451.25,344.5 451.50,343.4 451.75,342.3 452.00,341.4 452.25,340.5 452.50,339.8 452.75,339.2 453.00,338.7 453.25,338.4 453.50,338.2 453.75,338.3 454.00,338.7 454.25,339.4 454.50,340.4 454.75,341.7 455.00,343.2 455.25,344.9 455.50,346.7 455.75,348.7 456.00,350.8 456.25,352.9 456.50,355.0 456.75,357.1 457.00,359.1 457.25,361.0 457.50,362.9 457.75,364.5 458.00,366.0 458.25,367.2 458.50,368.2 458.75,368.8 459.00,369.2 459.25,369.2 459.50,369.1 459.75,369.0 460.00,368.8 460.25,368.5 460.50,368.3 460.75,368.1 461.00,367.8 461.25,367.6 461.50,367.5 461.75,367.4 462.00,367.4 462.25,367.6 462.50,368.0 462.75,368.5 463.00,369.2 463.25,370.0 463.50,370.8 463.75,371.8 464.00,372.8 464.25,373.7 464.50,374.7 464.75,375.7 465.00,376.6 465.25,377.4 465.50,378.1 465.75,378.6 466.00,379.0 466.25,379.3 466.50,379.3 466.75,378.9 467.00,378.2 467.25,377.1 467.50,375.7 467.75,374.0 468.00,372.1 468.25,369.9 468.50,367.6 468.75,365.1 469.00,362.4 469.25,359.7 469.50,356.9 469.75,354.0 470.00,351.1 470.25,348.3 470.50,345.5 470.75,342.7 471.00,340.1 471.25,337.6 471.50,335.3 471.75,333.2 472.00,331.3 472.25,329.7 472.50,328.4 472.75,327.4 473.00,326.7 473.25,326.4 473.50,326.5 473.75,326.8 474.00,327.2 474.25,327.9 474.50,328.7 474.75,329.7 475.00,330.8 475.25,332.0 475.50,333.3 475.75,334.7 476.00,336.2 476.25,337.7 476.50,339.3 476.75,340.8 477.00,342.4 477.25,343.9 477.50,345.4 477.75,346.8 478.00,348.2 478.25,349.5 478.50,350.7 478.75,351.7 479.00,352.6 479.25,353.4 479.50,354.0 479.75,354.4 480.00,354.6 480.25,354.6 480.50,354.5 480.75,354.4 481.00,354.2 481.25,353.9 481.50,353.6 481.75,353.2 482.00,352.9 482.25,352.4 482.50,352.0 482.75,351.5 483.00,351.1 483.25,350.6 483.50,350.1 483.75,349.6 484.00,349.2 484.25,348.7 484.50,348.3 484.75,347.9 485.00,347.5 485.25,347.2 485.50,346.9 485.75,346.7 486.00,346.5 486.25,346.4 486.50,346.4 486.75,346.5 487.00,346.8 487.25,347.2 487.50,347.8 487.75,348.6 488.00,349.5 488.25,350.5 488.50,351.6 488.75,352.8 489.00,354.1 489.25,355.4 489.50,356.8 489.75,358.2 490.00,359.7 490.25,361.1 490.50,362.6 490.75,364.0 491.00,365.4 491.25,366.8 491.50,368.0 491.75,369.3 492.00,370.4 492.25,371.4 492.50,372.3 492.75,373.1 493.00,373.8 493.25,374.2 493.50,374.6 493.75,374.7 494.00,374.7 494.25,374.5 494.50,374.2 494.75,373.8 495.00,373.3 495.25,372.7 495.50,372.1 495.75,371.3 496.00,370.5 496.25,369.6 496.50,368.7 496.75,367.7 497.00,366.7 497.25,365.6 497.50,364.6 497.75,363.5 498.00,362.4 498.25,361.3 498.50,360.3 498.75,359.2 499.00,358.2 499.25,357.2 499.50,356.3 499.75,355.4 500.00,354.5 500.25,353.8 500.50,353.1 500.75,352.5 501.00,352.0 501.25,351.6 501.50,351.3 501.75,351.1 502.00,351.0 502.25,351.0 502.50,351.1 502.75,351.1 503.00,351.2 503.25,351.4 503.50,351.5 503.75,351.7 504.00,351.9 504.25,352.1 504.50,352.3 504.75,352.5 505.00,352.8 505.25,353.0 505.50,353.3 505.75,353.6 506.00,353.9 506.25,354.2 506.50,354.5 506.75,354.8 507.00,355.1 507.25,355.4 507.50,355.7 507.75,356.0 508.00,356.2 508.25,356.5 508.50,356.8 508.75,357.1 509.00,357.3 509.25,357.6 509.50,357.8 509.75,358.0 510.00,358.2 510.25,358.3 510.50,358.5 510.75,358.6 511.00,358.8 511.25,358.9 511.50,359.1 511.75,359.2 512.00,359.3 512.25,359.4 512.50,359.6 512.75,359.7 513.00,359.8 513.25,359.9 513.50,360.0 513.75,360.1 514.00,360.3 514.25,360.4 514.50,360.5 514.75,360.6 515.00,360.7 515.25,360.8 515.50,360.9 515.75,361.1 516.00,361.2 516.25,361.3 516.50,361.4 516.75,361.6 517.00,361.7 517.25,361.9 517.50,362.0 517.75,362.2 518.00,362.3 518.25,362.5 518.50,362.7 518.75,362.9 519.00,363.2 519.25,363.4 519.50,363.6 519.75,363.9 520.00,364.1 520.25,364.4 520.50,364.6 520.75,364.9 521.00,365.1 521.25,365.3 521.50,365.6 521.75,365.8 522.00,366.0 522.25,366.2 522.50,366.4 522.75,366.6 523.00,366.8 523.25,366.9 523.50,367.1 523.75,367.2 524.00,367.3 524.25,367.3 524.50,367.4 524.75,367.4 525.00,367.4 525.25,367.3 525.50,367.2 525.75,367.0 526.00,366.7 526.25,366.4 526.50,366.1 526.75,365.8 527.00,365.4 527.25,365.1 527.50,364.7 527.75,364.3 528.00,364.0 528.25,363.6 528.50,363.3 528.75,363.0 529.00,362.7 529.25,362.4 529.50,362.2 529.75,362.1 530.00,362.0 530.25,362.0 530.50,362.0 530.75,362.1 531.00,362.3 531.25,362.4 531.50,362.6 531.75,362.9 532.00,363.1 532.25,363.4 532.50,363.7 532.75,364.0 533.00,364.3 533.25,364.6 533.50,364.9 533.75,365.2 534.00,365.5 534.25,365.7 534.50,366.0 534.75,366.1 535.00,366.3 535.25,366.4 535.50,366.5 535.75,366.5 536.00,366.5 536.25,366.5 536.50,366.4 536.75,366.4 537.00,366.3 537.25,366.2 537.50,366.1 537.75,366.0 538.00,365.8 538.25,365.7 538.50,365.5 538.75,365.3 539.00,365.1 539.25,364.8 539.50,364.6 539.75,364.3 540.00,364.1 540.25,363.8 540.50,363.4 540.75,363.1 541.00,362.8 541.25,362.4 541.50,362.0"/>
</g>
</g>
<rect x="47" y="284" width="495" height="158" fill="none" stroke="#606060" stroke-width="1.3"/>
<line x1="97.9" y1="284" x2="97.9" y2="289" stroke="#555" stroke-width="1"/>
<line x1="97.9" y1="442" x2="97.9" y2="437" stroke="#555" stroke-width="1"/>
<line x1="148.8" y1="284" x2="148.8" y2="289" stroke="#555" stroke-width="1"/>
<line x1="148.8" y1="442" x2="148.8" y2="437" stroke="#555" stroke-width="1"/>
<line x1="199.7" y1="284" x2="199.7" y2="289" stroke="#555" stroke-width="1"/>
<line x1="199.7" y1="442" x2="199.7" y2="437" stroke="#555" stroke-width="1"/>
<line x1="250.6" y1="284" x2="250.6" y2="289" stroke="#555" stroke-width="1"/>
<line x1="250.6" y1="442" x2="250.6" y2="437" stroke="#555" stroke-width="1"/>
<line x1="301.6" y1="284" x2="301.6" y2="289" stroke="#555" stroke-width="1"/>
<line x1="301.6" y1="442" x2="301.6" y2="437" stroke="#555" stroke-width="1"/>
<line x1="352.5" y1="284" x2="352.5" y2="289" stroke="#555" stroke-width="1"/>
<line x1="352.5" y1="442" x2="352.5" y2="437" stroke="#555" stroke-width="1"/>
<line x1="403.4" y1="284" x2="403.4" y2="289" stroke="#555" stroke-width="1"/>
<line x1="403.4" y1="442" x2="403.4" y2="437" stroke="#555" stroke-width="1"/>
<line x1="454.3" y1="284" x2="454.3" y2="289" stroke="#555" stroke-width="1"/>
<line x1="454.3" y1="442" x2="454.3" y2="437" stroke="#555" stroke-width="1"/>
<line x1="505.2" y1="284" x2="505.2" y2="289" stroke="#555" stroke-width="1"/>
<line x1="505.2" y1="442" x2="505.2" y2="437" stroke="#555" stroke-width="1"/>
<text x="41.3" y="288.6" font-size="12.4" text-anchor="end" fill="#262626" stroke="#262626" stroke-width="0.3">5</text>
<text x="41.3" y="367.6" font-size="12.4" text-anchor="end" fill="#262626" stroke="#262626" stroke-width="0.3">0</text>
<text x="41.3" y="446.6" font-size="12.4" text-anchor="end" fill="#262626" stroke="#262626" stroke-width="0.3">-5</text>
<text x="47.0" y="461.2" font-size="12.4" text-anchor="middle" fill="#262626" stroke="#262626" stroke-width="0.3">0</text>
<text x="97.9" y="461.2" font-size="12.4" text-anchor="middle" fill="#262626" stroke="#262626" stroke-width="0.3">0.1</text>
<text x="148.8" y="461.2" font-size="12.4" text-anchor="middle" fill="#262626" stroke="#262626" stroke-width="0.3">0.2</text>
<text x="199.7" y="461.2" font-size="12.4" text-anchor="middle" fill="#262626" stroke="#262626" stroke-width="0.3">0.3</text>
<text x="250.6" y="461.2" font-size="12.4" text-anchor="middle" fill="#262626" stroke="#262626" stroke-width="0.3">0.4</text>
<text x="301.6" y="461.2" font-size="12.4" text-anchor="middle" fill="#262626" stroke="#262626" stroke-width="0.3">0.5</text>
<text x="352.5" y="461.2" font-size="12.4" text-anchor="middle" fill="#262626" stroke="#262626" stroke-width="0.3">0.6</text>
<text x="403.4" y="461.2" font-size="12.4" text-anchor="middle" fill="#262626" stroke="#262626" stroke-width="0.3">0.7</text>
<text x="454.3" y="461.2" font-size="12.4" text-anchor="middle" fill="#262626" stroke="#262626" stroke-width="0.3">0.8</text>
<text x="505.2" y="461.2" font-size="12.4" text-anchor="middle" fill="#262626" stroke="#262626" stroke-width="0.3">0.9</text>
<text x="47.8" y="282.3" font-size="14.5" fill="#3a3a3a" stroke="none">×</text><text x="57.6" y="281.1" font-size="12.4" fill="#262626" stroke="#262626" stroke-width="0.3">10<tspan font-size="9.7" dy="-7.5">-18</tspan></text>
<text x="294.8" y="480.2" font-size="14.3" text-anchor="middle" fill="#262626" stroke="#262626" stroke-width="0.3">Time[s]</text>
<text transform="translate(21.8,363.3) rotate(-90)" x="0" y="0" font-size="15.3" text-anchor="middle" fill="#262626" stroke="#262626" stroke-width="0.3">Value</text>
<rect x="305" y="408.2" width="230" height="22" fill="#fff" stroke="#111" stroke-width="1.2"/>
<line x1="311" y1="419.5" x2="323" y2="419.5" stroke="#ff1a1a" stroke-width="2"/>
<line x1="459" y1="419.5" x2="470.5" y2="419.5" stroke="#1a8fe0" stroke-width="2"/>
<text x="330.5" y="424.2" font-size="13.3" fill="#111" stroke="#111" stroke-width="0.3">: Proposed scheme</text>
<text x="478" y="424.2" font-size="13.5" fill="#111" stroke="#111" stroke-width="0.3">: Field II</text>
<text class="ser" x="277.6" y="513.8" font-size="20.5" text-anchor="middle" fill="#000">(<tspan font-weight="bold">b</tspan>)</text>
</svg>
</body></html>
